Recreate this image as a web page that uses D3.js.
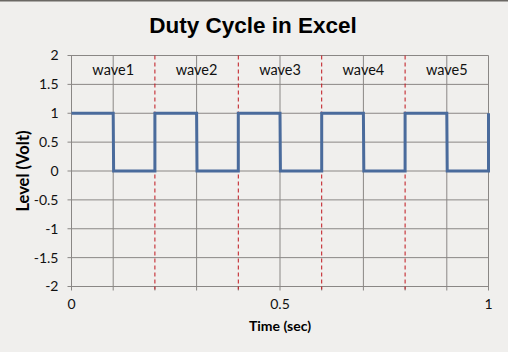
<!DOCTYPE html>
<html><head><meta charset="utf-8">
<script src="https://cdn.jsdelivr.net/npm/d3@7"></script>
<style>html,body{margin:0;padding:0;background:#f0efed;}</style>
</head><body>
<script>
const title = "Duty Cycle in Excel";
const xTitle = "Time (sec)";
const yTitle = "Level (Volt)";
const timeValues  = [0, 0.1, 0.101, 0.2, 0.2, 0.3, 0.301, 0.4, 0.4, 0.5, 0.501, 0.6, 0.6, 0.7, 0.701, 0.8, 0.8, 0.9, 0.901, 1.0, 1.0];
const levelValues = [1, 1,   0,     0,   1,   1,   0,     0,   1,   1,   0,     0,   1,   1,   0,     0,   1,   1,   0,     0,   1];
const waveLabels = ["wave1", "wave2", "wave3", "wave4", "wave5"];
const waveCenters = [0.1, 0.3, 0.5, 0.7, 0.9];
const waveBoundaries = [0.2, 0.4, 0.6, 0.8];
const yTicks = [2, 1.5, 1, 0.5, 0, -0.5, -1, -1.5, -2];
const xGridTicks = [0, 0.1, 0.2, 0.3, 0.4, 0.5, 0.6, 0.7, 0.8, 0.9, 1];
const xLabelTicks = [0, 0.5, 1];

const W = 508, H = 352;
const svg = d3.select("body").append("svg").attr("width", W).attr("height", H)
  .style("display","block");
svg.append("rect").attr("width", W).attr("height", H).attr("fill", "#f0efed");
svg.append("line").attr("x1",0).attr("x2",W).attr("y1",0.5).attr("y2",0.5).attr("stroke","#6b6864").attr("stroke-width",2);

const x = d3.scaleLinear().domain([0, 1]).range([71.5, 488.5]);
const y = d3.scaleLinear().domain([-2, 2]).range([286.5, 55.5]);
const font = "Lato, 'Open Sans', sans-serif";
const grid = "#8a8785";

svg.append("g").selectAll("line").data(yTicks).join("line")
  .attr("x1", x(0) - 4).attr("x2", x(1))
  .attr("y1", d => y(d)).attr("y2", d => y(d))
  .attr("stroke", grid).attr("stroke-width", 1);
svg.append("g").selectAll("line").data(xGridTicks.filter(d => !waveBoundaries.includes(d))).join("line")
  .attr("x1", d => x(d)).attr("x2", d => x(d))
  .attr("y1", y(2)).attr("y2", y(-2) + 4)
  .attr("stroke", grid).attr("stroke-width", 1);
svg.append("g").selectAll("line").data(waveBoundaries).join("line")
  .attr("x1", d => x(d)).attr("x2", d => x(d))
  .attr("y1", y(-2)).attr("y2", y(-2) + 4)
  .attr("stroke", grid).attr("stroke-width", 1);

svg.append("g").selectAll("text").data(yTicks).join("text")
  .attr("x", x(0) - 13).attr("y", d => y(d)).attr("dy", "0.35em")
  .attr("text-anchor", "end").attr("font-family", font).attr("font-size", 14)
  .attr("fill", "#111").text(d => String(d));
svg.append("g").selectAll("text").data(xLabelTicks).join("text")
  .attr("x", d => x(d)).attr("y", 309).attr("text-anchor", "middle")
  .attr("font-family", font).attr("font-size", 14).attr("fill", "#111")
  .text(d => d);

svg.append("g").selectAll("line").data(waveBoundaries).join("line")
  .attr("x1", d => x(d)).attr("x2", d => x(d))
  .attr("y1", y(2)).attr("y2", y(-2) + 3)
  .attr("stroke", "#c0141c").attr("stroke-width", 1).attr("stroke-dasharray", "4,3");

svg.append("g").selectAll("text").data(waveLabels).join("text")
  .attr("x", (d, i) => x(waveCenters[i])).attr("y", y(1.75)).attr("dy", "0.35em")
  .attr("text-anchor", "middle").attr("font-family", font).attr("font-size", 14.5)
  .attr("fill", "#111").text(d => d);

const pts = timeValues.map((t, i) => [t, levelValues[i]]);
svg.append("path").datum(pts)
  .attr("d", d3.line().x(d => x(d[0])).y(d => y(d[1])))
  .attr("fill", "none").attr("stroke", "#4a6b9c").attr("stroke-width", 3)
  .attr("stroke-linejoin", "miter");

svg.append("text").attr("x", 253).attr("y", 33).attr("text-anchor", "middle")
  .attr("font-family", "'Liberation Sans', Arial, sans-serif").attr("font-weight", "bold")
  .attr("font-size", 22.5).attr("fill", "#000").text(title);
svg.append("text").attr("x", x(0.5)).attr("y", 331).attr("text-anchor", "middle")
  .attr("font-family", font).attr("font-weight", "bold").attr("font-size", 14)
  .attr("fill", "#000").text(xTitle);
svg.append("text").attr("transform", `translate(29,${(y(2)+y(-2))/2}) rotate(-90)`)
  .attr("text-anchor", "middle").attr("font-family", font).attr("font-weight", "bold")
  .attr("font-size", 16.5).attr("fill", "#000").text(yTitle);
</script>
</body></html>
